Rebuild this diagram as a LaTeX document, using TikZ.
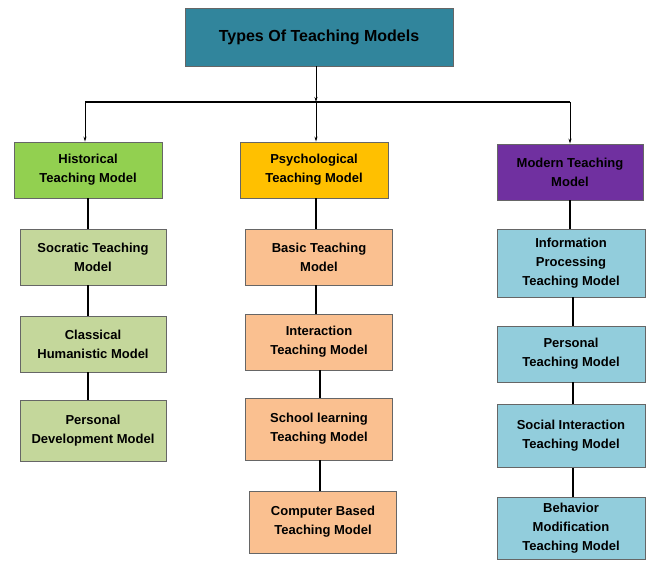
\documentclass[tikz,border=0pt]{standalone}
\usepackage{fontspec}
\setmainfont{Liberation Sans}
\usetikzlibrary{arrows.meta}
\begin{document}
\begin{tikzpicture}[x=1pt,y=-1pt,
 box/.style={draw=gray!80!black,line width=0.8pt,align=center,font=\bfseries\fontsize{13}{19}\selectfont,inner sep=2pt},
 link/.style={line width=2.2pt,black},
 arr/.style={line width=1pt,-{Stealth[length=5pt,width=3pt]}}]
\useasboundingbox (0,0) rectangle (664,572);
\node[box,fill={rgb,255:red,49;green,133;blue,156},minimum width=268,minimum height=58,font=\bfseries\fontsize{16}{20}\selectfont] (t) at (319,37) {Types Of Teaching Models};
\node[box,fill={rgb,255:red,146;green,208;blue,80},minimum width=148,minimum height=56] (h) at (88,170) {Historical\\Teaching Model};
\node[box,fill={rgb,255:red,255;green,192;blue,0},minimum width=148,minimum height=56] (p) at (314,170) {Psychological\\Teaching Model};
\node[box,fill={rgb,255:red,112;green,48;blue,160},minimum width=146,minimum height=56] (m) at (570,172) {Modern Teaching\\Model};
\coordinate (j) at (316,102);
\coordinate (jl) at (85,102);
\coordinate (jr) at (570,102);
\draw[arr] (t.south -| j) -- (j);
\draw[line width=2.2pt] (jl) -- (jr);
\draw[arr] (jl) -- (jl |- h.north);
\draw[arr] (j) -- (j |- p.north);
\draw[arr] (jr) -- (jr |- m.north);
\tikzset{g/.style={box,fill={rgb,255:red,196;green,215;blue,155},minimum width=146},
 o/.style={box,fill={rgb,255:red,250;green,192;blue,144},minimum width=147},
 b/.style={box,fill={rgb,255:red,146;green,205;blue,220},minimum width=148}}
\node[g,minimum height=56] (h1) at (93,257) {Socratic Teaching\\Model};
\node[g,minimum height=56] (h2) at (93,344) {Classical\\Humanistic Model};
\node[g,minimum height=61] (h3) at (93,431) {Personal\\Development Model};
\node[o,minimum height=56] (p1) at (319,257) {Basic Teaching\\Model};
\node[o,minimum height=56] (p2) at (319,342) {Interaction\\Teaching Model};
\node[o,minimum height=62] (p3) at (319,429) {School learning\\Teaching Model};
\node[o,minimum height=62] (p4) at (323,522) {Computer Based\\Teaching Model};
\node[b,minimum height=68] (m1) at (571,263) {Information\\Processing\\Teaching Model};
\node[b,minimum height=56] (m2) at (571,354) {Personal\\Teaching Model};
\node[b,minimum height=63] (m3) at (571,436) {Social Interaction\\Teaching Model};
\node[b,minimum height=62] (m4) at (571,528) {Behavior\\Modification\\Teaching Model};
\draw[link] (h.south -| 88,0) -- (h1.north -| 88,0);
\draw[link] (h1.south -| 88,0) -- (h2.north -| 88,0);
\draw[link] (h2.south -| 88,0) -- (h3.north -| 88,0);
\draw[link] (p.south -| 316,0) -- (p1.north -| 316,0);
\draw[link] (p1.south -| 316,0) -- (p2.north -| 316,0);
\draw[link] (p2.south -| 320,0) -- (p3.north -| 320,0);
\draw[link] (p3.south -| 320,0) -- (p4.north -| 320,0);
\draw[link] (m.south -| 570,0) -- (m1.north -| 570,0);
\draw[link] (m1.south -| 573,0) -- (m2.north -| 573,0);
\draw[link] (m2.south -| 573,0) -- (m3.north -| 573,0);
\draw[link] (m3.south -| 573,0) -- (m4.north -| 573,0);
\end{tikzpicture}
\end{document}
